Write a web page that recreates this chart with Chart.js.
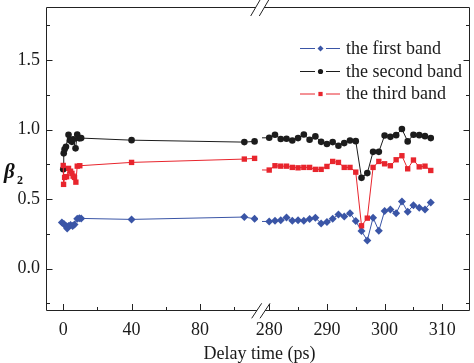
<!DOCTYPE html>
<html><head><meta charset="utf-8">
<script src="https://cdn.jsdelivr.net/npm/chart.js@4.4.1/dist/chart.umd.min.js"></script>
<style>
html,body{margin:0;padding:0;background:#fff;}
#wrap{position:relative;width:474px;height:363px;background:#fff;}
canvas{position:absolute;left:0;top:0;}
</style></head><body>
<div id="wrap"><canvas id="cA" width="474" height="363"></canvas><canvas id="cB" width="474" height="363"></canvas></div>
<script>
// ---------- data ----------
const seriesNames = ['the first band', 'the second band', 'the third band'];

const firstLeftTimes  = [-0.8, 0.4, 1.6, 2.3, 3.1, 4.3, 5.5, 6.6, 8.2, 9.4, 10.5, 40, 106, 112];
const firstLeftValues = [0.332, 0.320, 0.306, 0.289, 0.306, 0.313, 0.306, 0.318, 0.358, 0.363, 0.361, 0.354, 0.371, 0.358];

const secondLeftTimes  = [0, 0.3, 0.8, 1.6, 3.1, 3.9, 5.1, 5.8, 7.2, 8.2, 9.4, 10.5, 40, 106, 112];
const secondLeftValues = [0.715, 0.829, 0.858, 0.876, 0.963, 0.924, 0.912, 0.930, 0.865, 0.965, 0.937, 0.939, 0.924, 0.910, 0.915];

const thirdLeftTimes  = [0, 0.2, 0.8, 2.0, 3.1, 4.3, 5.1, 5.8, 6.6, 7.4, 8.2, 9.7, 40, 106, 112];
const thirdLeftValues = [0.742, 0.606, 0.656, 0.661, 0.721, 0.701, 0.685, 0.665, 0.656, 0.622, 0.737, 0.740, 0.764, 0.788, 0.793];

const rightTimes = [280, 281, 282, 283, 284, 285, 286, 287, 288, 289, 290, 291, 292, 293, 294,
                    295, 296, 297, 298, 299, 300, 301, 302, 303, 304, 305, 306, 307, 308];
const firstRightValues  = [0.339, 0.344, 0.347, 0.368, 0.344, 0.347, 0.344, 0.356, 0.366, 0.325,
                           0.335, 0.358, 0.390, 0.375, 0.399, 0.342, 0.270, 0.203, 0.366, 0.272,
                           0.414, 0.426, 0.399, 0.483, 0.409, 0.455, 0.437, 0.426, 0.476];
const secondRightValues = [0.941, 0.963, 0.932, 0.934, 0.922, 0.939, 0.965, 0.927, 0.951, 0.912,
                           0.896, 0.910, 0.884, 0.903, 0.922, 0.917, 0.653, 0.687, 0.840, 0.840,
                           0.958, 0.948, 0.960, 1.004, 0.915, 0.963, 0.960, 0.953, 0.939];
const thirdRightValues  = [0.709, 0.740, 0.737, 0.737, 0.728, 0.725, 0.728, 0.728, 0.714, 0.714,
                           0.735, 0.771, 0.764, 0.728, 0.728, 0.694, 0.308, 0.363, 0.728, 0.771,
                           0.754, 0.740, 0.783, 0.812, 0.718, 0.781, 0.732, 0.737, 0.706];

const yTicks = [0, 0.5, 1.0, 1.5];
const yMinorTicks = [-0.25, 0.25, 0.75, 1.25, 1.75];
const xTicksLeft = [0, 40, 80];
const xMinorLeft = [20, 60, 100];
const xTicksRight = [280, 290, 300, 310];
const xMinorRight = [285, 295, 305];

// ---------- styling ----------
const FONT = "'Liberation Serif', 'Times New Roman', serif";
const colors = ['#3a55a6', '#1c1c1c', '#e8252d'];
const styles = ['rectRot', 'circle', 'rect'];
const radii = [4, 3.3, 3.8];
const AXIS = '#222';
const Y_MIN = -0.305, Y_MAX = 1.882;

function pts(ts, vs) { return ts.map((t, i) => ({ x: t, y: vs[i] })); }

const leftSets = [
  pts(firstLeftTimes, firstLeftValues),
  pts(secondLeftTimes, secondLeftValues),
  pts(thirdLeftTimes, thirdLeftValues)
];
const rightSets = [
  pts(firstLeftTimes.slice(-1), firstLeftValues.slice(-1)).concat(pts(rightTimes, firstRightValues)),
  pts(secondLeftTimes.slice(-1), secondLeftValues.slice(-1)).concat(pts(rightTimes, secondRightValues)),
  pts(thirdLeftTimes.slice(-1), thirdLeftValues.slice(-1)).concat(pts(rightTimes, thirdRightValues))
];

function datasets(sets) {
  return sets.map((d, i) => ({
    label: seriesNames[i], data: d,
    borderColor: colors[i], backgroundColor: colors[i], borderWidth: 1,
    pointStyle: styles[i], pointRadius: radii[i], pointBorderWidth: 0,
    pointBackgroundColor: colors[i], tension: 0, fill: false
  })).reverse();
}

function zeroPad(s) { s.paddingTop = 0; s.paddingBottom = 0; s.paddingLeft = 0; s.paddingRight = 0; }

function xScale(min, max, ticks) {
  return {
    type: 'linear', min: min, max: max,
    grid: { display: false, drawTicks: false }, border: { display: false },
    afterBuildTicks: s => { s.ticks = ticks.map(v => ({ value: v })); },
    afterFit: s => { s.height = 52; zeroPad(s); },
    ticks: { font: { family: FONT, size: 18 }, color: '#1a1a1a', padding: 8, maxRotation: 0, autoSkip: false,
             callback: v => String(v) }
  };
}

function yScale(show) {
  return {
    type: 'linear', min: Y_MIN, max: Y_MAX, display: show,
    grid: { display: false, drawTicks: false }, border: { display: false },
    afterBuildTicks: s => { s.ticks = yTicks.map(v => ({ value: v })); },
    afterFit: s => { s.width = show ? 47 : 0; zeroPad(s); },
    ticks: { font: { family: FONT, size: 18 }, color: '#1a1a1a', padding: 7, callback: v => Number(v).toFixed(1) }
  };
}

function line(ctx, x1, y1, x2, y2) { ctx.moveTo(x1, y1); ctx.lineTo(x2, y2); }

const framePluginA = {
  id: 'frameA',
  afterDraw(chart) {
    const ctx = chart.ctx, a = chart.chartArea, xs = chart.scales.x, ys = chart.scales.y;
    const L = Math.round(a.left) - 0.5, T = Math.round(a.top) + 0.5, B = Math.round(a.bottom) - 0.5;
    ctx.save();
    ctx.strokeStyle = AXIS; ctx.lineWidth = 1;
    ctx.beginPath();
    line(ctx, L, T, 256, T);
    line(ctx, L, T, L, B);
    line(ctx, L, B, 257, B);
    yTicks.forEach(v => { const y = Math.round(ys.getPixelForValue(v)) + 0.5; line(ctx, L, y, L + 6, y); });
    yMinorTicks.forEach(v => { const y = Math.round(ys.getPixelForValue(v)) + 0.5; line(ctx, L, y, L + 3.5, y); });
    xTicksLeft.forEach(v => { const x = Math.round(xs.getPixelForValue(v)) + 0.5; line(ctx, x, B, x, B - 6.5); });
    xMinorLeft.forEach(v => { const x = Math.round(xs.getPixelForValue(v)) + 0.5; line(ctx, x, B, x, B - 3.5); });
    ctx.stroke();
    // y-axis title
    ctx.fillStyle = '#111';
    ctx.textBaseline = 'alphabetic'; ctx.textAlign = 'left';
    ctx.font = "italic bold 21px " + FONT;
    ctx.fillText('β', 4, 178);
    ctx.font = "bold 12px " + FONT;
    ctx.fillText('2', 17, 184);
    ctx.restore();
  }
};

function drawMarker(ctx, style, x, y, r) {
  ctx.beginPath();
  if (style === 'circle') ctx.arc(x, y, r, 0, Math.PI * 2);
  else if (style === 'rect') { const s = r * Math.SQRT1_2; ctx.rect(x - s, y - s, 2 * s, 2 * s); }
  else { ctx.moveTo(x - r, y); ctx.lineTo(x, y - r); ctx.lineTo(x + r, y); ctx.lineTo(x, y + r); ctx.closePath(); }
  ctx.fill();
}

const framePluginB = {
  id: 'frameB',
  afterDraw(chart) {
    const ctx = chart.ctx, a = chart.chartArea, xs = chart.scales.x, ys = chart.scales.y;
    const R = Math.round(a.right) - 0.5, T = Math.round(a.top) + 0.5, B = Math.round(a.bottom) - 0.5;
    ctx.save();
    ctx.strokeStyle = AXIS; ctx.lineWidth = 1;
    ctx.beginPath();
    line(ctx, 264, T, R, T);
    line(ctx, R, T, R, B);
    line(ctx, 265, B, R, B);
    yTicks.forEach(v => { const y = Math.round(ys.getPixelForValue(v)) + 0.5; line(ctx, R, y, R - 6, y); });
    yMinorTicks.forEach(v => { const y = Math.round(ys.getPixelForValue(v)) + 0.5; line(ctx, R, y, R - 3.5, y); });
    xTicksRight.forEach(v => { const x = Math.round(xs.getPixelForValue(v)) + 0.5; line(ctx, x, B, x, B - 6.5); });
    xMinorRight.forEach(v => { const x = Math.round(xs.getPixelForValue(v)) + 0.5; line(ctx, x, B, x, B - 3.5); });
    // axis break marks
    line(ctx, 250.7, 16, 260, 0); line(ctx, 259.3, 16, 268.7, 0);
    line(ctx, 251.7, 318.3, 261.7, 303.3); line(ctx, 260, 318.3, 270, 303.3);
    ctx.stroke();
    // x title
    ctx.fillStyle = '#1a1a1a';
    ctx.font = "18px " + FONT; ctx.textAlign = 'center'; ctx.textBaseline = 'alphabetic';
    ctx.fillText('Delay time (ps)', 259.5, 359);
    // legend
    const rows = [48, 71, 93.5];
    ctx.textAlign = 'left'; ctx.textBaseline = 'middle';
    seriesNames.forEach((name, i) => {
      const y = rows[i] + 0.5;
      ctx.strokeStyle = colors[i]; ctx.lineWidth = 1;
      ctx.beginPath(); line(ctx, 300, y, 315, y); line(ctx, 326, y, 340, y); ctx.stroke();
      ctx.fillStyle = colors[i];
      drawMarker(ctx, styles[i], 320.5, y, i === 1 ? 2.6 : 3);
      ctx.fillStyle = '#1a1a1a';
      ctx.fillText(name, 346, rows[i] + 1);
    });
    ctx.restore();
  }
};

const common = {
  responsive: false, animation: false, devicePixelRatio: 1,
  plugins: { legend: { display: false }, tooltip: { enabled: false } },
  elements: { line: { borderWidth: 1 } }
};

new Chart(document.getElementById('cA'), {
  type: 'line',
  data: { datasets: datasets(leftSets) },
  options: Object.assign({}, common, {
    layout: { padding: { left: 0, right: 216, top: 7, bottom: 0 } },
    scales: { x: xScale(-9.5, 114, xTicksLeft), y: yScale(true) }
  }),
  plugins: [framePluginA]
});

new Chart(document.getElementById('cB'), {
  type: 'line',
  data: { datasets: datasets(rightSets) },
  options: Object.assign({}, common, {
    layout: { padding: { left: 262, right: 1, top: 7, bottom: 0 } },
    scales: { x: xScale(278.75, 314.8, xTicksRight), y: yScale(false) }
  }),
  plugins: [framePluginB]
});
</script>
</body></html>
